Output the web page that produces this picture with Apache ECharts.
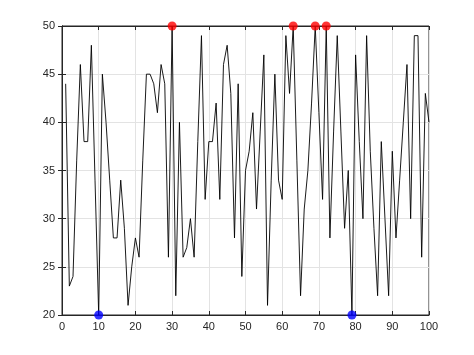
<!DOCTYPE html>
<html>
<head>
<meta charset="utf-8">
<script src="https://cdn.jsdelivr.net/npm/echarts@6/dist/echarts.min.js"></script>
<style>
html,body{margin:0;padding:0;background:#fff;}
#chart{width:474px;height:355px;}
</style>
</head>
<body>
<div id="chart"></div>
<script>
var xValues = [];
for (var i = 1; i <= 100; i++) xValues.push(i);
var yValues = [44,23,24,36,46,38,38,48,34,20,
               45,40,34,28,28,34,29,21,25,28,
               26,36,45,45,44,41,46,44,26,50,
               22,40,26,27,30,26,38,49,32,38,
               38,42,32,46,48,43,28,44,24,35,
               37,41,31,39,47,21,34,45,34,32,
               49,43,50,36,22,31,35,42,50,41,
               32,50,28,39,49,39,29,35,20,47,
               38,30,49,37,29,22,38,30,22,37,
               28,34,40,46,30,49,49,26,43,40];
var xTicks = [0,10,20,30,40,50,60,70,80,90,100];
var yTicks = [20,25,30,35,40,45,50];

var lineData = xValues.map(function(x, i){ return [x, yValues[i]]; });
var maxV = Math.max.apply(null, yValues);
var minV = Math.min.apply(null, yValues);
var maxPts = lineData.filter(function(p){ return p[1] === maxV; });
var minPts = lineData.filter(function(p){ return p[1] === minV; });

var txt = {color:'#262626', fontSize:11, fontFamily:'Liberation Sans, Arial, sans-serif'};
var axisLineStyle = {color:'#262626', width:1};
var gridColor = '#e3e3e3';

var chart = echarts.init(document.getElementById('chart'), null, {renderer:'canvas'});
chart.setOption({
  animation:false,
  backgroundColor:'#ffffff',
  grid:{left:62, right:45, top:26, bottom:40, show:true, borderColor:'#262626', borderWidth:1, backgroundColor:'#ffffff'},
  xAxis:[{
    type:'value', min:xTicks[0], max:xTicks[xTicks.length-1], interval:10, position:'bottom',
    axisLine:{show:true, lineStyle:axisLineStyle},
    axisTick:{show:true, inside:true, length:4, lineStyle:axisLineStyle},
    axisLabel:Object.assign({margin:6}, txt),
    splitLine:{show:true, lineStyle:{color:gridColor, width:1}}
  },{
    type:'value', min:xTicks[0], max:xTicks[xTicks.length-1], interval:10, position:'top',
    axisLine:{show:true, lineStyle:axisLineStyle},
    axisTick:{show:true, inside:true, length:4, lineStyle:axisLineStyle},
    axisLabel:{show:false}, splitLine:{show:false}
  }],
  yAxis:[{
    type:'value', min:yTicks[0], max:yTicks[yTicks.length-1], interval:5, position:'left',
    axisLine:{show:true, lineStyle:axisLineStyle},
    axisTick:{show:true, inside:true, length:4, lineStyle:axisLineStyle},
    axisLabel:Object.assign({margin:7}, txt),
    splitLine:{show:true, lineStyle:{color:gridColor, width:1}}
  },{
    type:'value', min:yTicks[0], max:yTicks[yTicks.length-1], interval:5, position:'right',
    axisLine:{show:true, lineStyle:axisLineStyle},
    axisTick:{show:true, inside:true, length:4, lineStyle:axisLineStyle},
    axisLabel:{show:false}, splitLine:{show:false}
  }],
  series:[{
    type:'line', data:lineData, showSymbol:false, symbol:'none',
    lineStyle:{color:'#000000', width:0.9}, z:2
  },{
    type:'scatter', data:maxPts, symbol:'circle', symbolSize:9,
    itemStyle:{color:'#ff0000'}, z:3
  },{
    type:'scatter', data:minPts, symbol:'circle', symbolSize:9,
    itemStyle:{color:'#0000ff'}, z:3
  }]
});
</script>
</body>
</html>
